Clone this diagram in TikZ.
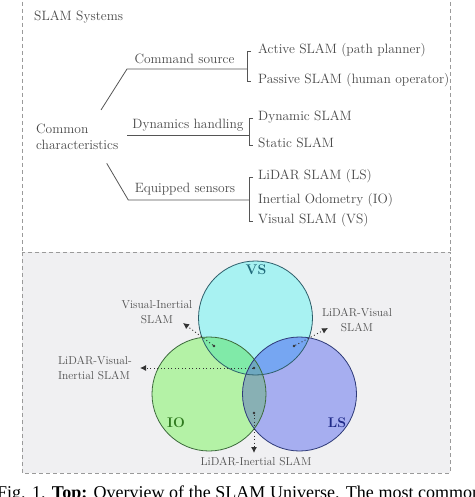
\documentclass[tikz,border=0pt]{standalone}
\usepackage{fontspec}
\newfontfamily\capfont{Liberation Serif}
\usetikzlibrary{arrows.meta}
\definecolor{txt}{HTML}{484848}
\definecolor{notec}{HTML}{505050}
\definecolor{linec}{HTML}{555555}
\definecolor{bgc}{HTML}{F0F0F2}
\definecolor{boxc}{HTML}{9A9A9A}
\definecolor{vsf}{HTML}{A8F2F2}
\definecolor{iof}{HTML}{B4F2A6}
\definecolor{lsf}{HTML}{A6AEF0}
\definecolor{vif}{HTML}{80EAA8}
\definecolor{lvf}{HTML}{76A6F2}
\definecolor{ilf}{HTML}{88B0B4}
\definecolor{trif}{HTML}{6EA8C0}
\definecolor{vso}{HTML}{2E5E6A}
\definecolor{ioo}{HTML}{3C6A3C}
\definecolor{lso}{HTML}{2E3A78}
\definecolor{vsl}{HTML}{1F6A7A}
\definecolor{iol}{HTML}{2F7A1F}
\definecolor{lsl}{HTML}{1F2A88}
\begin{document}
\begin{tikzpicture}[x=1pt,y=-1pt,
  lbl/.style={text=txt,font=\fontsize{13.5}{16}\selectfont,inner sep=0pt,anchor=mid west},
  cat/.style={text=txt,font=\fontsize{13.5}{16}\selectfont,inner sep=0pt,anchor=mid},
  note/.style={text=notec,font=\fontsize{11.5}{15}\selectfont,inner sep=0pt,align=center},
  br/.style={draw=linec,line width=0.8pt},
  dbox/.style={draw=boxc,line width=0.7pt,dash pattern=on 4pt off 3pt},
  ann/.style={draw=black!80,line width=0.9pt,dash pattern=on 1pt off 2.5pt,-{Latex[length=6pt,width=6pt]}},
  dotm/.style={circle,fill=black!80,inner sep=0pt,minimum size=2.6pt},
  setlbl/.style={font=\bfseries\fontsize{14}{16}\selectfont,inner sep=0pt}
]
\useasboundingbox (0,0) rectangle (474,497);
% boxes
\draw[dbox] (22,-5) -- (22,252);
\draw[dbox] (450,-5) -- (450,252);
\filldraw[dbox,fill=bgc] (22,252) rectangle (450,473);

% top tree
\node[lbl] (title) at (34,18) {SLAM Systems};
\node[text=txt,font=\fontsize{13.5}{16}\selectfont,inner sep=0pt,anchor=west,align=left] (cc) at (36,136.5) {Common\\characteristics};

\node[cat] (cmd) at (184.5,61) {Command source};
\node[cat] (dyn) at (188,126) {Dynamics handling};
\node[cat] (eq) at (185,190) {Equipped sensors};

\node[lbl] (act) at (258,51.7) {Active SLAM (path planner)};
\node[lbl] (pas) at (258,81.7) {Passive SLAM (human operator)};
\node[lbl] (dsl) at (258,118.3) {Dynamic SLAM};
\node[lbl] (ssl) at (258,145.7) {Static SLAM};
\node[lbl] (lsl) at (258,177.7) {LiDAR SLAM (LS)};
\node[lbl] (iol) at (258,201) {Inertial Odometry (IO)};
\node[lbl] (vsl) at (258,221.7) {Visual SLAM (VS)};

\coordinate (c1a) at (101,110);
\coordinate (c1b) at (127,69);
\coordinate (c1c) at (247,69);
\coordinate (c2a) at (127,135);
\coordinate (c2b) at (249,135);
\coordinate (c3a) at (106.7,163.3);
\coordinate (c3b) at (128.3,200);
\coordinate (c3c) at (249,200);
\draw[br] (c1a) -- (c1b) -- (c1c);
\draw[br] (c2a) -- (c2b);
\draw[br] (c3a) -- (c3b) -- (c3c);
\draw[br] ([xshift=-7pt]act.mid west) -- ++(-4,0) |- ([xshift=-7pt]pas.mid west);
\draw[br] ([xshift=-5pt]dsl.mid west) -- ++(-4,0) |- ([xshift=-5pt]ssl.mid west);
\draw[br] ([xshift=-5pt]lsl.mid west) -- ++(-4,0) |- ([xshift=-5pt]vsl.mid west);

% Venn
\coordinate (vs) at (255.5,318);
\coordinate (io) at (209,394);
\coordinate (ls) at (299.5,394);
\fill[vsf] (vs) circle (57pt);
\fill[iof] (io) circle (57pt);
\fill[lsf] (ls) circle (57pt);
\begin{scope}\clip (vs) circle (57pt); \fill[vif] (io) circle (57pt); \end{scope}
\begin{scope}\clip (vs) circle (57pt); \fill[lvf] (ls) circle (57pt); \end{scope}
\begin{scope}\clip (io) circle (57pt); \fill[ilf] (ls) circle (57pt); \end{scope}
\begin{scope}\clip (vs) circle (57pt); \clip (io) circle (57pt); \fill[trif] (ls) circle (57pt); \end{scope}
\draw[vso,line width=0.8pt] (vs) circle (57pt);
\draw[ioo,line width=0.8pt] (io) circle (57pt);
\draw[lso,line width=0.8pt] (ls) circle (57pt);

\node[setlbl,text=vsl] (vsn) at (256,270) {VS};
\node[setlbl,text=iol] (ion) at (176,423) {IO};
\node[setlbl,text=lsl] (lsn) at (337,423) {LS};

\node[note] (vi) at (157,312.5) {Visual-Inertial\\SLAM};
\node[note] (lv) at (357,320.5) {LiDAR-Visual\\SLAM};
\node[note,align=left] (lvi) at (95,368) {LiDAR-Visual-\\Inertial SLAM};
\node[note] (li) at (256,462) {LiDAR-Inertial SLAM};

\node[dotm] (d1) at (214,346) {};
\node[dotm] (d2) at (294,346) {};
\node[dotm] (d3) at (254,368) {};
\node[dotm] (d4) at (254,413) {};
\coordinate (t1) at (183,323);
\coordinate (t2) at (328,328);
\coordinate (t3) at (140,368);
\coordinate (t4) at (254,453);
\draw[ann] (d1) -- (t1);
\draw[ann] (d2) -- (t2);
\draw[ann] (d3) -- (t3);
\draw[ann] (d4) -- (t4);

% caption (cut off at the bottom, as in the reference)
\node[anchor=base west,inner sep=0pt,font=\capfont\fontsize{18}{20}\selectfont,text=black] (cap) at (-3,498.5) {\makebox[484pt][s]{Fig. 1. \textbf{Top:} Overview of the SLAM Universe. The most common}};
\end{tikzpicture}
\end{document}
